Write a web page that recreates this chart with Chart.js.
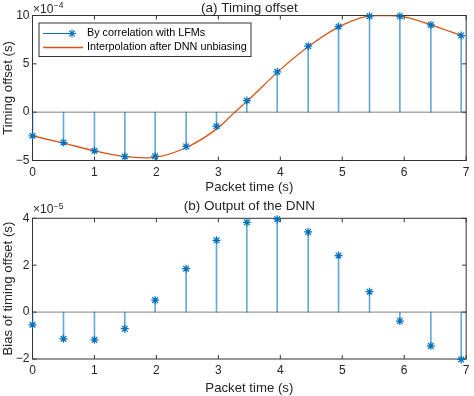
<!DOCTYPE html>
<html><head><meta charset="utf-8">
<script src="https://cdn.jsdelivr.net/npm/chart.js@4/dist/chart.umd.min.js"></script>
<style>
html,body{margin:0;padding:0;background:#fff;}
canvas{position:absolute;left:0;}
#c1{top:0;}
#c2{top:195px;}
</style></head><body>
<canvas id="c1" width="474" height="195"></canvas>
<canvas id="c2" width="474" height="201"></canvas>
<script>
// ---- data ----
const packetTimes = [0, 0.5, 1, 1.49, 1.98, 2.48, 2.97, 3.46, 3.95, 4.45, 4.94, 5.44, 5.93, 6.43, 6.92];
// timing offset by correlation with LFMs, in units of 1e-4 s
const timingOffset = [-2.45, -3.14, -4.0, -4.59, -4.55, -3.55, -1.45, 1.2, 4.17, 6.83, 8.86, 9.93, 9.93, 9.03, 7.93];
// interpolation after DNN unbiasing, in units of 1e-4 s
const interpTimes  = [0, 0.5, 1, 1.5, 1.8, 2.0, 2.5, 3.0, 3.25, 3.5, 4.0, 4.5, 5.0, 5.5, 5.75, 6.0, 6.5, 6.92];
const interpOffset = [-2.45, -3.2, -4.0, -4.6, -4.72, -4.65, -3.6, -1.6, -0.1, 1.35, 4.4, 7.0, 9.0, 9.98, 10.0, 9.85, 8.88, 7.93];
// bias of timing offset (output of the DNN), in units of 1e-5 s
const dnnBias = [-0.54, -1.14, -1.18, -0.71, 0.51, 1.85, 3.06, 3.83, 3.96, 3.42, 2.41, 0.87, -0.38, -1.44, -2.02];

const xTickValues = [0, 1, 2, 3, 4, 5, 6, 7];
const topYTicks = [-5, 0, 5, 10];
const bottomYTicks = [-2, 0, 2, 4];
const topExponent = '−4';
const bottomExponent = '−5';
const seriesLabels = ['By correlation with LFMs', 'Interpolation after DNN unbiasing'];
const titles = ['(a) Timing offset', '(b) Output of the DNN'];
const yTitles = ['Timing offset (s)', 'Bias of timing offset (s)'];
const xTitle = 'Packet time (s)';

// ---- styles ----
const FONT = "'Liberation Sans', Arial, Helvetica, sans-serif";
const TXT = '#262626';
const BLUE = '#0072BD';
const STEM = 'rgba(0,114,189,0.6)';
const ORANGE = '#D95319';
const TICK_SIZE = 12, LABEL_SIZE = 13.2, TITLE_SIZE = 13.5, LEGEND_SIZE = 10.8;

const fmt = v => (v < 0 ? '−' + Math.abs(v) : String(v));

const matlabAxes = {
  id: 'matlabAxes',
  beforeDatasetsDraw(chart, args, opts) {
    const {ctx, chartArea: a, scales: {x, y}} = chart;
    ctx.save();
    // zero baseline
    const y0 = y.getPixelForValue(0);
    ctx.strokeStyle = '#808080';
    ctx.lineWidth = 1;
    ctx.beginPath(); ctx.moveTo(a.left, y0); ctx.lineTo(a.right, y0); ctx.stroke();
    // box
    ctx.strokeStyle = '#333333';
    ctx.strokeRect(a.left, a.top, a.right - a.left, a.bottom - a.top);
    // inward ticks
    const L = 4;
    ctx.beginPath();
    x.ticks.forEach(t => {
      const p = x.getPixelForValue(t.value);
      ctx.moveTo(p, a.bottom); ctx.lineTo(p, a.bottom - L);
      ctx.moveTo(p, a.top); ctx.lineTo(p, a.top + L);
    });
    y.ticks.forEach(t => {
      const p = y.getPixelForValue(t.value);
      ctx.moveTo(a.left, p); ctx.lineTo(a.left + L, p);
      ctx.moveTo(a.right, p); ctx.lineTo(a.right - L, p);
    });
    ctx.stroke();
    ctx.restore();
  },
  afterDraw(chart, args, opts) {
    const {ctx, chartArea: a} = chart;
    ctx.save();
    // exponent label
    ctx.fillStyle = TXT;
    ctx.textBaseline = 'alphabetic';
    ctx.textAlign = 'left';
    ctx.font = TICK_SIZE + 'px ' + FONT;
    const bx = a.left + 0.5, by = a.top - opts.expGap;
    ctx.fillText('×10', bx, by);
    const w = ctx.measureText('×10').width;
    ctx.font = '8.5px ' + FONT;
    ctx.fillText(opts.exp, bx + w + 0.5, by - 4.8);
    // legend
    if (opts.legend) {
      const ds = chart.data.datasets;
      const lx = a.left + 6.5, ly = a.top + 7.5, lw = 212, lh = 33.5;
      ctx.fillStyle = '#fff';
      ctx.fillRect(lx, ly, lw, lh);
      ctx.strokeStyle = '#333333';
      ctx.lineWidth = 1;
      ctx.strokeRect(lx, ly, lw, lh);
      const r1 = ly + 10.5, r2 = ly + 24.5;
      // stem entry
      ctx.strokeStyle = BLUE; ctx.lineWidth = 1;
      ctx.beginPath(); ctx.moveTo(lx + 4, r1); ctx.lineTo(lx + 33, r1); ctx.stroke();
      const sx = lx + 33, sr = 4;
      ctx.lineWidth = 1.2;
      ctx.beginPath();
      ctx.moveTo(sx - sr, r1); ctx.lineTo(sx + sr, r1);
      ctx.moveTo(sx, r1 - sr); ctx.lineTo(sx, r1 + sr);
      const d = sr * 0.707;
      ctx.moveTo(sx - d, r1 - d); ctx.lineTo(sx + d, r1 + d);
      ctx.moveTo(sx - d, r1 + d); ctx.lineTo(sx + d, r1 - d);
      ctx.stroke();
      // line entry
      ctx.strokeStyle = ORANGE; ctx.lineWidth = 1.3;
      ctx.beginPath(); ctx.moveTo(lx + 4, r2); ctx.lineTo(lx + 44, r2); ctx.stroke();
      ctx.fillStyle = '#000';
      ctx.font = LEGEND_SIZE + 'px ' + FONT;
      ctx.textBaseline = 'middle';
      ctx.fillText(ds[2].label, lx + 48, r1);
      ctx.fillText(ds[1].label, lx + 48, r2);
    }
    ctx.restore();
  }
};

function makeChart(id, yVals, yTicks, exp, title, yTitle, opt) {
  const pts = packetTimes.map((x, i) => ({x, y: yVals[i]}));
  const datasets = [
    {type: 'bar', label: 'stems', data: pts, backgroundColor: STEM, barThickness: 1, order: 3}
  ];
  if (opt.curve) {
    datasets.push({type: 'line', label: seriesLabels[1],
      data: interpTimes.map((x, i) => ({x, y: interpOffset[i]})),
      borderColor: ORANGE, borderWidth: 1.3, pointRadius: 0, cubicInterpolationMode: 'monotone', order: 2});
  } else {
    datasets.push({type: 'line', label: '', data: [], order: 2});
  }
  datasets.push({type: 'scatter', label: seriesLabels[0], data: pts, pointStyle: 'star', pointRadius: 4,
    borderColor: BLUE, backgroundColor: BLUE, borderWidth: 1.25, showLine: false, clip: false, order: 1});

  return new Chart(document.getElementById(id), {
    type: 'bar',
    data: {datasets},
    options: {
      responsive: false,
      animation: false,
      events: [],
      layout: {padding: {left: 0, right: 3.5, top: 0, bottom: 0}},
      plugins: {
        legend: {display: false},
        tooltip: {enabled: false},
        title: {display: true, text: title, fullSize: false, color: TXT,
          font: {family: FONT, size: TITLE_SIZE, weight: 'normal', lineHeight: 1}, padding: opt.titlePad},
        matlabAxes: {exp, legend: opt.legend, expGap: opt.expGap}
      },
      scales: {
        x: {
          type: 'linear', min: 0, max: 7, offset: false,
          afterBuildTicks: s => { s.ticks = xTickValues.map(v => ({value: v})); },
          ticks: {color: TXT, font: {family: FONT, size: TICK_SIZE}, padding: opt.xTickPad, maxRotation: 0, callback: fmt},
          grid: {display: false, drawTicks: false, offset: false},
          border: {display: false},
          title: {display: true, text: xTitle, color: TXT, font: {family: FONT, size: LABEL_SIZE}, padding: {top: 0, bottom: 0}},
          afterFit: s => { s.height = opt.xHeight; }
        },
        y: {
          type: 'linear', min: yTicks[0], max: yTicks[yTicks.length - 1],
          afterBuildTicks: s => { s.ticks = yTicks.map(v => ({value: v})); },
          ticks: {color: TXT, font: {family: FONT, size: TICK_SIZE}, padding: 3, callback: fmt},
          grid: {display: false, drawTicks: false},
          border: {display: false},
          title: {display: true, text: yTitle, color: TXT, font: {family: FONT, size: LABEL_SIZE}, padding: {top: 0, bottom: 0}},
          afterFit: s => { s.width = 32.5; }
        }
      }
    },
    plugins: [matlabAxes]
  });
}

makeChart('c1', timingOffset, topYTicks, topExponent, titles[0], yTitles[0],
  {curve: true, legend: true, titlePad: {top: 1.25, bottom: 0.75}, xHeight: 34.5, xTickPad: 4.5, expGap: 3});
makeChart('c2', dnnBias, bottomYTicks, bottomExponent, titles[1], yTitles[1],
  {curve: false, legend: false, titlePad: {top: 4.95, bottom: 4.85}, xHeight: 37, xTickPad: 4.5, expGap: 5});
</script>
</body></html>
